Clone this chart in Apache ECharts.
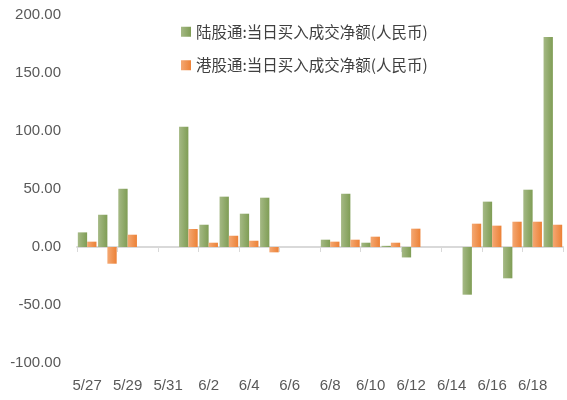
<!DOCTYPE html>
<html>
<head>
<meta charset="utf-8">
<script src="https://cdn.jsdelivr.net/npm/echarts@6/dist/echarts.min.js"></script>
<style>
  html, body { margin: 0; padding: 0; background: #fff; }
  #chart { width: 567px; height: 400px; }
</style>
</head>
<body>
<div id="chart"></div>
<script>
const dates = ['5/27', '5/28', '5/29', '5/30', '5/31', '6/1', '6/2', '6/3', '6/4', '6/5', '6/6', '6/7',
  '6/8', '6/9', '6/10', '6/11', '6/12', '6/13', '6/14', '6/15', '6/16', '6/17', '6/18', '6/19'];
// null = no trading that day
const northbound = [12.6, 27.8, 50.2, null, null, 103.7, 19.2, 43.4, 28.7, 42.5, null, null,
  6.3, 45.9, 3.7, 1.0, -9.0, null, null, -41.1, 39.1, -27.0, 49.4, 181.0];
const southbound = [4.6, -14.4, 10.6, null, null, 15.5, 3.7, 9.7, 5.4, -4.6, null, null,
  4.6, 6.3, 8.9, 3.7, 15.8, null, null, 20.1, 18.4, 21.8, 21.8, 19.2];
const seriesNames = ['陆股通:当日买入成交净额(人民币)', '港股通:当日买入成交净额(人民币)'];

const chart = echarts.init(document.getElementById('chart'));

const grad = (a, b) => new echarts.graphic.LinearGradient(0, 0, 1, 0, [
  { offset: 0, color: a }, { offset: 1, color: b }
]);

chart.setOption({
  animation: false,
  textStyle: { fontFamily: 'Liberation Sans, Arial, sans-serif' },
  legend: {
    orient: 'vertical',
    left: 176,
    top: 19,
    itemGap: 18,
    itemWidth: 10,
    itemHeight: 10,
    icon: 'rect',
    textStyle: { fontFamily: 'Noto Sans CJK SC', fontSize: 15.5, color: '#404040' },
    data: seriesNames
  },
  grid: { left: 77, right: 4, top: 15, bottom: 37 },
  xAxis: [
    {
      type: 'category',
      data: dates,
      axisLine: { onZero: true, lineStyle: { color: '#d9d9d9', width: 2 } },
      axisTick: { show: true, interval: 1, length: 5, lineStyle: { color: '#d9d9d9' } },
      axisLabel: { show: false }
    },
    {
      type: 'category',
      data: dates,
      position: 'bottom',
      axisLine: { show: false },
      axisTick: { show: false },
      axisLabel: { interval: 1, color: '#595959', fontSize: 15, margin: 15 }
    }
  ],
  yAxis: {
    type: 'value',
    min: -100,
    max: 200,
    interval: 50,
    splitLine: { show: false },
    axisLine: { show: false },
    axisTick: { show: false },
    axisLabel: {
      color: '#595959',
      fontSize: 15,
      margin: 16,
      formatter: v => v.toFixed(2)
    }
  },
  series: [
    {
      name: seriesNames[0],
      type: 'bar',
      xAxisIndex: 0,
      data: northbound,
      barGap: '0%',
      barCategoryGap: '8%',
      itemStyle: { color: grad('#a5b985', '#7f9d55') }
    },
    {
      name: seriesNames[1],
      type: 'bar',
      xAxisIndex: 0,
      data: southbound,
      itemStyle: { color: grad('#f4a873', '#ec8136') }
    }
  ]
});
</script>
</body>
</html>
